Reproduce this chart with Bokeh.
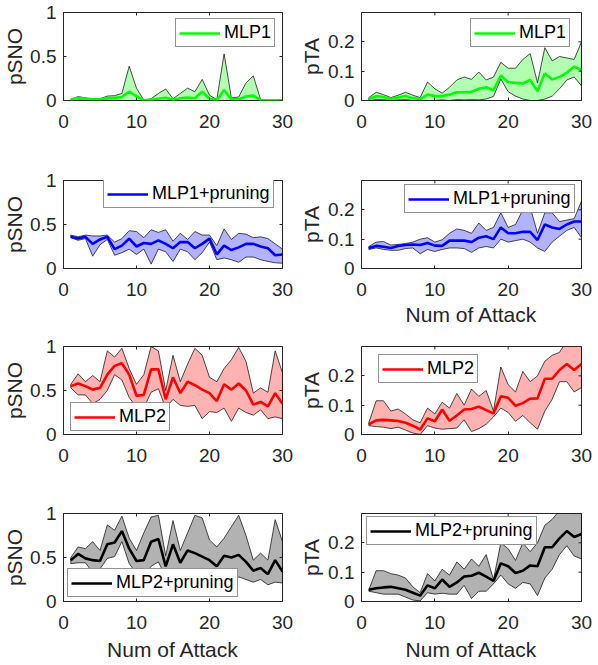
import numpy as np
from bokeh.plotting import figure
from bokeh.models import FixedTicker, Legend, LegendItem, Range1d
from bokeh.layouts import column, row
from bokeh.embed import file_html
from bokeh.resources import INLINE

# ---------------- data ----------------
attack = list(range(1, 31))
x_ticks = [0, 10, 20, 30]
psno_ticks = [0, 0.5, 1]
pta_ticks = [0, 0.1, 0.2]

# MLP1
mean1_sno = [0.01,0.03,0.02,0.015,0.015,0.025,0.03,0.04,0.10,0.05,0.003,0.008,0.02,0.03,0.008,0.025,0.035,0.025,0.10,0.02,0.003,0.12,0.015,0.015,0.045,0.055,0.003,0.002,0.003,0.002]
up1_sno = [0.01,0.045,0.03,0.02,0.02,0.05,0.055,0.08,0.39,0.14,0.005,0.02,0.08,0.13,0.02,0.08,0.14,0.10,0.24,0.06,0.01,0.53,0.03,0.04,0.20,0.28,0.01,0.005,0.01,0.005]
lo1_sno = [0.0,0.005,0.003,0.0,0.0,0.002,0.003,0.0,0.0,0.0,0.0,0.0,0.0,0.0,0.0,0.0,0.0,0.0,0.0,0.0,0.0,0.0,0.0,0.0,0.0,0.0,0.0,0.0,0.0,0.0]
mean1_ta = [0.005,0.015,0.012,0.005,0.01,0.015,0.008,0.005,0.02,0.015,0.015,0.02,0.028,0.028,0.03,0.04,0.045,0.035,0.085,0.062,0.06,0.058,0.07,0.032,0.092,0.072,0.08,0.095,0.115,0.105]
up1_ta = [0.01,0.028,0.02,0.01,0.018,0.028,0.018,0.01,0.063,0.04,0.025,0.045,0.07,0.08,0.072,0.097,0.07,0.08,0.13,0.11,0.11,0.14,0.16,0.06,0.18,0.135,0.15,0.145,0.14,0.20]
lo1_ta = [0.0,0.003,0.003,0.0,0.002,0.003,0.0,0.0,0.0,0.0,0.002,0.0,0.003,0.002,0.003,0.002,0.005,0.014,0.073,0.03,0.015,0.005,0.0,0.0,0.005,0.015,0.04,0.07,0.08,0.05]

# MLP1+pruning
mean1p_sno = [0.36,0.34,0.36,0.28,0.33,0.36,0.22,0.26,0.34,0.25,0.29,0.28,0.32,0.28,0.23,0.30,0.30,0.23,0.28,0.34,0.16,0.26,0.21,0.24,0.28,0.28,0.25,0.23,0.15,0.16]
up1p_sno = [0.38,0.36,0.38,0.37,0.37,0.38,0.30,0.34,0.43,0.42,0.35,0.44,0.41,0.44,0.31,0.40,0.33,0.42,0.38,0.38,0.26,0.45,0.33,0.40,0.39,0.35,0.36,0.34,0.28,0.22]
lo1p_sno = [0.35,0.32,0.34,0.14,0.27,0.33,0.15,0.18,0.22,0.16,0.22,0.05,0.22,0.19,0.08,0.22,0.19,0.10,0.18,0.30,0.10,0.12,0.10,0.07,0.13,0.13,0.10,0.08,0.065,0.06]
mean1p_ta = [0.07,0.077,0.074,0.07,0.077,0.08,0.082,0.08,0.087,0.078,0.077,0.095,0.095,0.095,0.09,0.105,0.11,0.10,0.14,0.12,0.12,0.125,0.125,0.097,0.15,0.14,0.135,0.15,0.16,0.16]
up1p_ta = [0.075,0.09,0.092,0.08,0.082,0.085,0.09,0.10,0.105,0.09,0.098,0.12,0.135,0.13,0.12,0.155,0.13,0.14,0.19,0.14,0.15,0.20,0.21,0.12,0.19,0.19,0.16,0.165,0.17,0.23]
lo1p_ta = [0.065,0.07,0.065,0.062,0.062,0.068,0.07,0.05,0.065,0.058,0.065,0.07,0.07,0.068,0.055,0.07,0.075,0.07,0.10,0.09,0.095,0.10,0.09,0.07,0.058,0.09,0.11,0.13,0.14,0.105]

# MLP2
mean2_sno = [0.55,0.58,0.55,0.51,0.53,0.68,0.78,0.81,0.68,0.44,0.45,0.74,0.74,0.40,0.65,0.47,0.60,0.56,0.51,0.47,0.38,0.57,0.51,0.58,0.50,0.34,0.37,0.32,0.47,0.35]
up2_sno = [0.57,0.69,0.60,0.67,0.60,0.95,0.88,0.98,0.75,0.57,0.68,1.0,0.95,0.50,0.90,0.60,0.80,0.98,0.90,0.65,0.60,0.75,0.85,0.99,0.83,0.47,0.53,0.48,0.95,0.70]
lo2_sno = [0.53,0.45,0.45,0.35,0.40,0.50,0.68,0.62,0.42,0.31,0.30,0.48,0.52,0.30,0.40,0.33,0.32,0.33,0.18,0.26,0.25,0.30,0.15,0.30,0.25,0.22,0.28,0.18,0.20,0.18]
mean2_ta = [0.035,0.048,0.05,0.048,0.046,0.04,0.03,0.017,0.055,0.045,0.085,0.047,0.065,0.085,0.087,0.095,0.083,0.072,0.13,0.125,0.098,0.107,0.122,0.123,0.19,0.19,0.22,0.24,0.22,0.24]
up2_ta = [0.04,0.115,0.115,0.08,0.087,0.07,0.05,0.04,0.09,0.07,0.11,0.09,0.14,0.10,0.155,0.13,0.15,0.08,0.23,0.17,0.145,0.215,0.18,0.20,0.25,0.27,0.28,0.32,0.35,0.33]
lo2_ta = [0.03,0.027,0.025,0.02,0.025,0.015,0.005,0.0,0.03,0.022,0.018,0.02,0.022,0.05,0.01,0.02,0.035,0.06,0.09,0.075,0.045,0.065,0.04,0.018,0.08,0.12,0.18,0.18,0.145,0.16]

# MLP2+pruning
mean2p_sno = [0.47,0.54,0.49,0.47,0.46,0.65,0.67,0.80,0.60,0.46,0.47,0.68,0.71,0.40,0.65,0.44,0.58,0.55,0.51,0.47,0.40,0.52,0.50,0.53,0.45,0.35,0.38,0.31,0.47,0.34]
up2p_sno = [0.50,0.62,0.60,0.68,0.58,0.87,0.81,0.97,0.72,0.58,0.78,0.96,0.98,0.52,0.92,0.58,0.78,0.98,0.95,0.70,0.62,0.72,0.85,0.98,0.75,0.47,0.55,0.47,0.93,0.68]
lo2p_sno = [0.43,0.44,0.44,0.33,0.37,0.49,0.51,0.68,0.43,0.32,0.28,0.40,0.45,0.28,0.38,0.30,0.30,0.30,0.25,0.25,0.23,0.28,0.18,0.28,0.25,0.22,0.25,0.19,0.22,0.21]
mean2p_ta = [0.04,0.045,0.048,0.05,0.045,0.04,0.03,0.02,0.055,0.045,0.075,0.05,0.065,0.085,0.088,0.098,0.085,0.07,0.13,0.12,0.097,0.105,0.123,0.12,0.185,0.185,0.215,0.24,0.22,0.23]
up2p_ta = [0.04,0.105,0.105,0.095,0.09,0.08,0.05,0.03,0.095,0.07,0.11,0.09,0.135,0.11,0.145,0.12,0.16,0.075,0.20,0.18,0.14,0.20,0.17,0.20,0.26,0.28,0.31,0.31,0.30,0.31]
lo2p_ta = [0.035,0.03,0.025,0.025,0.025,0.015,0.005,0.002,0.03,0.025,0.028,0.025,0.025,0.055,0.01,0.035,0.035,0.06,0.09,0.06,0.045,0.065,0.06,0.02,0.08,0.11,0.16,0.19,0.155,0.145]

series_names = ["MLP1", "MLP1+pruning", "MLP2", "MLP2+pruning"]
series_colors = ["#00ff00", "#0000ff", "#ff0000", "#000000"]

# ---------------- styling / layout ----------------
FONT = "Liberation Sans"
AX = "#262626"
col_geom = [(61, 221, 12, 1), (67, 220, 16, 2)]    # left border, frame w, right border, ylabel standoff
row_geom = [(12, 67), (13, 66), (12, 67), (12, 63)]  # top border, bottom border
FRAME_H = 88


def panel(ci, ri, mean, up, lo, color, name, ylabel, yr, yticks, overrides,
          xlabel, xstand, leg_loc):
    bl, fw, br, ystand = col_geom[ci]
    bt, bb = row_geom[ri]
    p = figure(width=bl + fw + br, height=bt + FRAME_H + bb,
               x_range=Range1d(0, 30), y_range=Range1d(*yr),
               output_backend="svg", toolbar_location=None,
               min_border_left=bl, min_border_right=br,
               min_border_top=bt, min_border_bottom=bb)
    p.xgrid.visible = False
    p.ygrid.visible = False
    p.outline_line_color = AX
    p.outline_line_width = 1
    p.background_fill_color = "white"
    p.border_fill_color = "white"

    xs = np.array(attack, dtype=float)
    p.patch(np.concatenate([xs, xs[::-1]]),
            np.concatenate([np.array(up), np.array(lo)[::-1]]),
            fill_color=color, fill_alpha=0.3, line_color="black", line_width=0.7)
    r = p.line(attack, mean, line_color=color, line_width=2.6)

    # inward tick marks on the top and right edges (box on)
    ytop = yr[1]
    p.scatter(x_ticks, [ytop] * len(x_ticks), marker="dash", angle=np.pi / 2,
              size=6, line_color=AX, line_width=1)
    p.scatter([30] * len(yticks), yticks, marker="dash",
              size=6, line_color=AX, line_width=1)

    for ax, ticks in ((p.xaxis[0], x_ticks), (p.yaxis[0], yticks)):
        ax.ticker = FixedTicker(ticks=ticks)
        ax.axis_line_color = None
        ax.major_tick_in = 3
        ax.major_tick_out = 0
        ax.major_tick_line_color = AX
        ax.minor_tick_line_color = None
        ax.major_label_text_font = FONT
        ax.major_label_text_font_size = "19px"
        ax.major_label_text_color = AX
        ax.axis_label_text_font = FONT
        ax.axis_label_text_font_size = "21px"
        ax.axis_label_text_font_style = "normal"
        ax.axis_label_text_color = AX
    p.xaxis[0].major_label_standoff = 14
    p.yaxis[0].major_label_standoff = 7
    p.yaxis[0].major_label_overrides = overrides
    p.xaxis[0].major_label_overrides = {0: "0", 10: "10", 20: "20", 30: "30"}
    p.yaxis[0].axis_label = ylabel
    p.yaxis[0].axis_label_standoff = ystand
    if xlabel:
        p.xaxis[0].axis_label = xlabel
        p.xaxis[0].axis_label_standoff = xstand

    leg = Legend(items=[LegendItem(label=name, renderers=[r])], location=leg_loc)
    leg.label_text_font = FONT
    leg.label_text_font_size = "18px"
    leg.label_text_color = "#000000"
    leg.border_line_color = AX
    leg.border_line_width = 1
    leg.background_fill_color = "white"
    leg.background_fill_alpha = 1.0
    leg.padding = 3
    leg.margin = 0
    leg.glyph_width = 41
    leg.glyph_height = 18
    leg.label_height = 18
    leg.label_standoff = 4
    leg.spacing = 0
    p.add_layout(leg)
    return p


sno_over = {0: "0", 0.5: "0.5", 1: "1"}
ta_over = {0: "0", 0.1: "0.1", 0.2: "0.2"}

f11 = panel(0, 0, mean1_sno, up1_sno, lo1_sno, series_colors[0], series_names[0], "pSNO", (0, 1), psno_ticks, sno_over, None, 0, (112, 53))
f12 = panel(1, 0, mean1_ta, up1_ta, lo1_ta, series_colors[0], series_names[0], "pTA", (0, 0.3), pta_ticks, ta_over, None, 0, (109, 53))
f21 = panel(0, 1, mean1p_sno, up1p_sno, lo1p_sno, series_colors[1], series_names[1], "pSNO", (0, 1), psno_ticks, sno_over, None, 0, (40, 60))
f22 = panel(1, 1, mean1p_ta, up1p_ta, lo1p_ta, series_colors[1], series_names[1], "pTA", (0, 0.3), pta_ticks, ta_over, "Num of Attack", 4, (43, 55))
f31 = panel(0, 2, mean2_sno, up2_sno, lo2_sno, series_colors[2], series_names[2], "pSNO", (0, 1), psno_ticks, sno_over, None, 0, (7, 3))
f32 = panel(1, 2, mean2_ta, up2_ta, lo2_ta, series_colors[2], series_names[2], "pTA", (0, 0.3), pta_ticks, ta_over, None, 0, (17, 51))
f41 = panel(0, 3, mean2p_sno, up2p_sno, lo2p_sno, series_colors[3], series_names[3], "pSNO", (0, 1), psno_ticks, sno_over, "Num of Attack", 6, (4, 4))
f42 = panel(1, 3, mean2p_ta, up2p_ta, lo2p_ta, series_colors[3], series_names[3], "pTA", (0, 0.3), pta_ticks, ta_over, "Num of Attack", 6, (5, 56))

layout = column(row(f11, f12), row(f21, f22), row(f31, f32), row(f41, f42))
open("out.html", "w").write(file_html(layout, INLINE))
